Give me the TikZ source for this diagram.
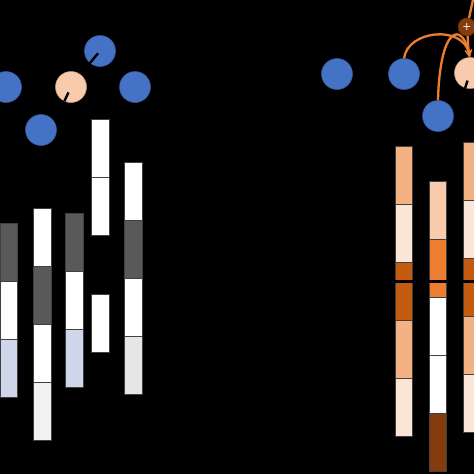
\documentclass[tikz,border=0pt]{standalone}
\usepackage[dvipsnames]{xcolor}

\definecolor{dotblue}{HTML}{4472C4}
\definecolor{dotpeach}{HTML}{F8CBAD}
\definecolor{dkgray}{HTML}{595959}
\definecolor{ltblue}{HTML}{CFD5EA}
\definecolor{ltgray}{HTML}{F2F2F2}
\definecolor{midgray}{HTML}{E7E6E6}
\definecolor{peach}{HTML}{F4B183}
\definecolor{ltpeach}{HTML}{FBE5D6}
\definecolor{dkorange}{HTML}{C55A11}
\definecolor{orange}{HTML}{ED7D31}
\definecolor{brown}{HTML}{843C0C}

\begin{document}
\begin{tikzpicture}[x=1pt,y=-1pt,>=stealth,thick,
    dot/.style={circle,draw=dotblue!80!black,line width=0.5pt,fill=dotblue,minimum size=31pt,inner sep=0pt},
    seg/.style={rectangle,draw=black!75,line width=0.7pt,minimum width=17.5pt,minimum height=58pt,inner sep=0pt},
    hand/.style={-,black,line width=2.4pt},
    flow/.style={->,orange,line width=2.3pt}]

                        \clip (0,0) rectangle (474,474);
                        \fill[black] (0,0) rectangle (474,474);

                        % left network
                        \node[dot] (1) at (6,87) {};
                        \node[dot] (2) at (100,51) {};
                        \node[dot, fill=dotpeach, draw=dotpeach!80!black] (3) at (71,87) {};
                        \node[dot] (4) at (135,87) {};
                        \node[dot] (5) at (41,130) {};

                        \draw[hand, shorten <=3pt] (2.center) to (2.230);
                        \draw[hand, shorten <=6pt] (3.center) to (3.245);

                        % left bars
                        \foreach \c [count=\i] in {dkgray,white,ltblue}
                            \node[seg, fill=\c] (a\i) at (9,223+58*\i-29) {};
                        \foreach \c [count=\i] in {white,dkgray,white,ltgray}
                            \node[seg, fill=\c] (b\i) at (42.5,208+58*\i-29) {};
                        \foreach \c [count=\i] in {dkgray,white,ltblue}
                            \node[seg, fill=\c] (c\i) at (74.5,213+58*\i-29) {};
                        \foreach \c [count=\i] in {white,white}
                            \node[seg, fill=\c] (d\i) at (100.5,119+58*\i-29) {};
                        \node[seg, fill=white] (d3) at (100.5,323) {};
                        \foreach \c [count=\i] in {white,dkgray,white,midgray}
                            \node[seg, fill=\c] (e\i) at (133.5,162+58*\i-29) {};

                        % right network
                        \node[dot] (6) at (337,74) {};
                        \node[dot] (7) at (404,74) {};
                        \node[dot] (8) at (438,116) {};
                        \node[dot, fill=dotpeach, draw=dotpeach!80!black] (9) at (470,73) {};
                        \node[circle, fill=brown, draw=brown!70!black, line width=0.5pt, minimum size=18pt, inner sep=0pt,
                              text=white, font=\sffamily\bfseries] (10) at (467,27) {+};
                        \coordinate (top) at (473,0);

                        \draw[hand, shorten <=8pt] (9.center) to (9.252);

                        \draw[-, orange, line width=2.3pt] (top) to (10);
                        \draw[flow] (10) to (9);
                        \draw[flow] (7.north) .. controls (408,30) and (462,25) .. (9.north);
                        \draw[flow] (8.north) .. controls (440,25) and (462,22) .. (9.north);

                        % right bars
                        \foreach \c [count=\i] in {peach,ltpeach,dkorange,peach,ltpeach}
                            \node[seg, fill=\c] (f\i) at (404,146+58*\i-29) {};
                        \foreach \c [count=\i] in {dotpeach,orange,white,white,brown}
                            \node[seg, fill=\c] (g\i) at (438,181+58*\i-29) {};
                        \foreach \c [count=\i] in {peach,ltpeach,dkorange,peach,ltpeach}
                            \node[seg, fill=\c] (h\i) at (472,142+58*\i-29) {};

                        \draw[-, black, line width=3pt] (388,281) -- (474,281);

                        ;
                    \end{tikzpicture}
\end{document}
